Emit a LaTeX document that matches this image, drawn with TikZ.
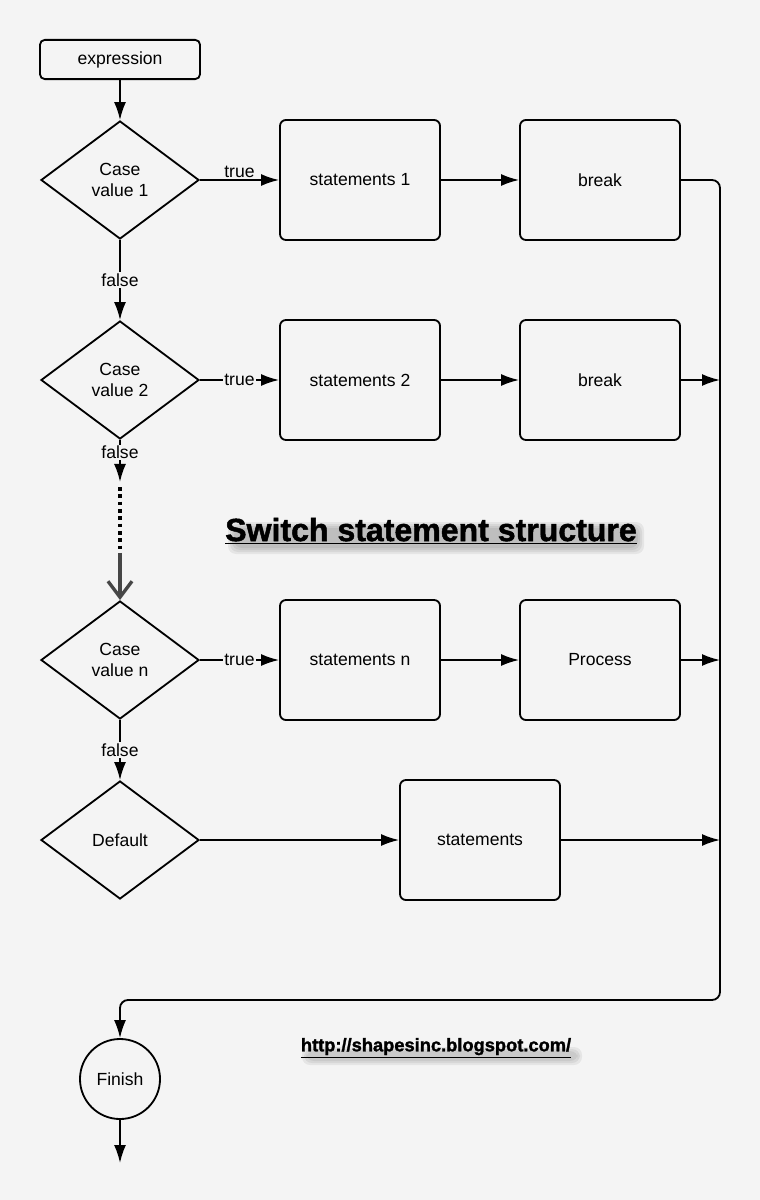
\documentclass[tikz,border=0pt]{standalone}
\usepackage{fontspec}
\setmainfont{Liberation Sans}
\newfontfamily\heavyfont[FakeBold=1.5]{Liberation Sans}
\usetikzlibrary{shapes.geometric, arrows.meta}
\definecolor{bgcol}{RGB}{244,244,244}

\begin{document}
\begin{tikzpicture}[x=0.025cm, y=-0.025cm]

\tikzset{block/.style = {shape=rectangle, draw, line width=1.3pt, rounded corners=1.5mm, minimum width=4cm, minimum height=3cm, font=\fontsize{12.5}{15}\selectfont}}
\tikzset{decision/.style = {shape=diamond, draw, line width=1.3pt, minimum width=3.95cm, minimum height=2.95cm, inner sep=0pt, align=center, font=\fontsize{12.5}{15}\selectfont}}
\tikzset{edge/.style = {line width=1.3pt, -{Latex[length=4.5mm,width=3mm]}}}
\tikzset{lbl/.style = {fill=bgcol, inner sep=1pt, font=\fontsize{12.5}{15}\selectfont}}
\tikzset{banner/.style = {inner sep=0pt, font=\heavyfont\bfseries\fontsize{22.8}{28}\selectfont}}
\tikzset{link/.style = {inner sep=0pt, font=\heavyfont\bfseries\fontsize{13}{16}\selectfont}}
\tikzset{blur/.style = {black, opacity=0.06, rounded corners=2mm}}

\fill[bgcol] (0,0) rectangle (760,1200);
\useasboundingbox (0,0) rectangle (760,1200);

%shadows of the texts
\foreach \s in {0,2,4,6}
  \fill[blur] (234-\s,528-\s) rectangle (638+\s,548+\s);
\foreach \s in {0,2,4}
  \fill[blur] (306-\s,1051-\s) rectangle (578+\s,1061+\s);

%verticies
\node[block, minimum height=0.98cm, rounded corners=1.2mm] (expr) at (120,59.5) {expression};
\node[decision] (case1) at (120,180) {Case\\value 1};
\node[decision] (case2) at (120,380) {Case\\value 2};
\node[decision] (casen) at (120,660) {Case\\value n};
\node[decision] (default) at (120,840) {Default};
\node[block] (stmt1) at (360,180) {statements 1};
\node[block] (stmt2) at (360,380) {statements 2};
\node[block] (stmtn) at (360,660) {statements n};
\node[block] (stmtd) at (480,840) {statements};
\node[block] (brk1) at (600,180) {break};
\node[block] (brk2) at (600,380) {break};
\node[block] (proc) at (600,660) {Process};
\node[shape=circle, draw, line width=1.3pt, minimum size=2cm, font=\fontsize{12.5}{15}\selectfont] (finish) at (120,1079) {Finish};

%texts
\node[banner] (title) at (431,531) {\underline{Switch statement structure}};
\node[link] (url) at (436,1048) {\underline{http://shapesinc.blogspot.com/}};

%corners
\coordinate (rtop) at (720,180);
\coordinate (rbot) at (720,1000);
\coordinate (lbot) at (120,1000);
\coordinate (j2) at (720,380);
\coordinate (jn) at (720,660);
\coordinate (jd) at (720,840);
\coordinate (gap) at (120,482);
\coordinate (dotA) at (120,487);
\coordinate (dotB) at (120,553);
\coordinate (out) at (120,1163);

%edges
\draw[edge] (expr) -- (case1);
\draw[edge] (case1) -- node[above, lbl, fill=none] {true} (stmt1);
\draw[edge] (case2) -- node[lbl] {true} (stmt2);
\draw[edge] (casen) -- node[lbl] {true} (stmtn);
\draw[edge] (default) -- (stmtd);
\draw[edge] (stmt1) -- (brk1);
\draw[edge] (stmt2) -- (brk2);
\draw[edge] (stmtn) -- (proc);
\draw[edge] (brk2) -- (j2);
\draw[edge] (proc) -- (jn);
\draw[edge] (stmtd) -- (jd);
\draw[edge] (case1) -- node[lbl] {false} (case2);
\draw[edge] (case2) -- node[lbl, pos=0.3] {false} (gap);
\draw[edge] (casen) -- node[lbl] {false} (default);
\draw[line width=2.4pt, dash pattern=on 2.6pt off 2.6pt] (dotA) -- (dotB);
\draw[line width=2.4pt, gray!55!black, -{Straight Barb[length=4mm,width=6mm]}] (dotB) -- (casen);
\draw[edge, rounded corners=2mm] (brk1) -- (rtop) -- (rbot) -- (lbot) -- (finish);
\draw[edge] (finish) -- (out);

\end{tikzpicture}
\end{document}
